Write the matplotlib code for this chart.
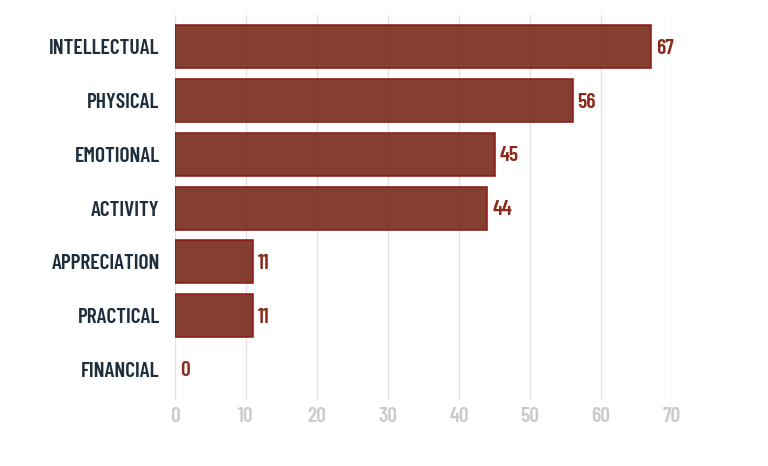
import matplotlib
matplotlib.use("Agg")
import matplotlib.pyplot as plt

categories = ["INTELLECTUAL", "PHYSICAL", "EMOTIONAL", "ACTIVITY", "APPRECIATION", "PRACTICAL", "FINANCIAL"]
values = [67, 56, 45, 44, 11, 11, 0]
xticks = [0, 10, 20, 30, 40, 50, 60, 70]

fam = ["Barlow Condensed", "DejaVu Sans"]

fig = plt.figure(figsize=(7.68, 4.66), dpi=100)
ax = fig.add_axes([175/768, 1-400/466, (672-175)/768, (400-15)/466])

y = list(range(len(categories)))
lw = [1.2 if v > 0 else 0 for v in values]
ax.barh(y, values, height=0.8, color="#7a2e1f", alpha=0.92, edgecolor="#8b1414", linewidth=lw, zorder=2)
for yi, v in zip(y, values):
    ax.text(v + 0.7, yi + 0.03, str(v), va="center", ha="left", color="#8a2a1c",
            fontsize=15.5, fontweight="semibold", family=fam, zorder=3)

ax.set_xlim(0, 70)
ax.set_ylim(6.57, -0.59)
ax.set_yticks(y)
ax.set_yticklabels(categories, fontsize=15.5, fontweight="semibold", family=fam, color="#1f2e3c")
ax.set_xticks(xticks)
ax.set_xticklabels([str(t) for t in xticks], fontsize=15.5, fontweight="semibold", family=fam, color="#c8ccce")
ax.tick_params(axis="both", length=0)
ax.tick_params(axis="y", pad=11)
ax.tick_params(axis="x", pad=5)
for s in ax.spines.values():
    s.set_visible(False)
ax.grid(axis="x", color="#e2e2e2", linewidth=1, zorder=0)
ax.set_axisbelow(True)

fig.savefig("out.png", dpi=100)
